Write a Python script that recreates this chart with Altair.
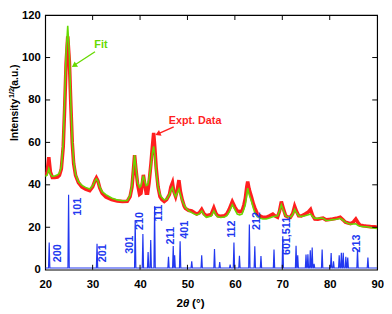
import altair as alt
import pandas as pd

# ---------------- data ----------------
expt_x = [20.0, 20.4, 20.76, 21.1, 21.5, 22.0, 22.6, 23.0, 23.4, 23.8, 24.1, 24.4, 24.75, 25.1, 25.4, 25.7,
          26.0, 26.4, 27.0, 27.7, 28.5, 29.4, 30.0, 30.5, 30.8, 31.1, 31.5, 32.0, 32.8, 34.0, 35.2, 36.3,
          37.3, 37.9, 38.3, 38.6, 38.85, 39.1, 39.5, 39.9, 40.2, 40.5, 40.7, 40.95, 41.3, 41.6, 41.9, 42.3,
          42.6, 42.87, 43.1, 43.4, 43.8, 44.2, 44.6, 45.1, 45.6, 46.2, 46.5, 46.84, 47.1, 47.5, 47.8, 48.2,
          48.5, 48.9, 49.3, 49.56, 50.2, 50.9, 51.5, 51.95, 52.5, 53.0, 53.5, 54.0, 55.0, 55.56, 56.0, 56.4,
          57.0, 57.75, 58.3, 58.8, 59.45, 60.0, 60.5, 61.0, 61.5, 61.9, 62.2, 62.5, 62.7, 63.0, 63.5, 63.9,
          64.2, 64.7, 65.26, 65.9, 66.6, 67.3, 68.0, 68.5, 69.0, 69.4, 69.8, 70.2, 70.7, 71.2, 71.7, 72.2,
          72.6, 73.0, 73.45, 74.0, 74.8, 75.5, 75.96, 76.4, 76.85, 77.5, 78.1, 78.6, 79.2, 79.9, 80.6, 81.4,
          82.2, 82.8, 83.3, 83.9, 84.4, 85.0, 85.5, 86.0, 86.4, 87.1, 87.8, 88.6, 89.5, 90.0]
expt_y = [44.5, 46, 53, 46, 43.5, 43.5, 43.7, 44.5, 47.5, 58, 76, 97, 110, 98, 78, 60,
          50, 44.5, 41, 39, 38, 37.3, 39, 42, 43.3, 42, 38.5, 36, 34.3, 33, 32.4, 32.1,
          32.2, 34.5, 39, 47, 54, 48, 40, 35.5, 36, 41, 44.7, 41, 36, 36, 41, 50,
          58, 64.5, 58, 48, 39, 34.5, 33, 32.1, 33, 35.5, 39, 41, 37, 34.5, 37, 42.2,
          37, 32.9, 30, 28.9, 28, 27.7, 26.8, 26.2, 26.8, 28.4, 26.3, 25.4, 26, 29.1, 26.5, 25.4,
          25.2, 25.4, 26.3, 28.4, 32.1, 29.5, 27.7, 27.3, 27.7, 30.5, 33.6, 39, 41.5, 38, 34.3, 31,
          29.1, 26.5, 25.4, 24.7, 24.7, 25.4, 26.2, 25.3, 24.7, 27.5, 32.1, 29, 25.4, 24.8, 24.7, 26.5,
          29.9, 27.5, 25.4, 25.3, 26.2, 27.2, 28.4, 25.5, 23.9, 23.8, 24.1, 24.3, 23.5, 23.7, 23.9, 24.2,
          24.7, 23.5, 22.4, 22, 21.7, 22.5, 23.9, 22.0, 21, 20.7, 20.5, 20.3, 20.2, 20]

fit_x = expt_x
fit_y = [44, 44.5, 47.7, 45, 44, 44.2, 44.7, 45.5, 48.5, 60, 80, 102, 115, 101, 79, 61,
         51, 45, 41.5, 39.8, 38.8, 38, 39.5, 42, 42.8, 41.8, 39, 36.8, 35.4, 33.8, 32.9, 32.5,
         32.6, 35, 40, 47.5, 54, 48.5, 41, 38.8, 39.5, 42.5, 44.3, 42, 39.6, 40, 43, 49,
         55, 58.1, 54, 46, 39, 35.5, 34, 32.9, 33.3, 35.5, 37.5, 38.8, 36.5, 34.5, 36, 38,
         35.5, 32.5, 30.5, 29.4, 27.8, 26.9, 26.2, 25.8, 26.3, 27.7, 25.8, 24.7, 25.3, 27.7, 25.8, 24.9,
         24.6, 24.8, 25.5, 27.2, 30.6, 28.3, 26.2, 25.8, 26.2, 28.5, 30.6, 35.5, 38.4, 35.5, 32.1, 29,
         26.9, 25, 24.3, 23.9, 23.9, 24.4, 25.0, 25.2, 25.4, 27.5, 30.6, 28, 25.4, 24.8, 24.7, 26,
         28.4, 26.8, 25.4, 25.1, 25.4, 25.9, 26.2, 25, 24.2, 24.2, 24.4, 24.3, 23.2, 23.3, 23.6, 23.8,
         24.2, 23.3, 22.4, 21.8, 21.4, 21.5, 21.6, 20.8, 20.5, 20.3, 20.2, 19.9, 19.5, 19.4]

ref_pos = [20.84, 24.93, 30.93, 38.98, 40.6, 41.7, 42.25, 43.07, 46.0, 47.0, 47.3, 48.45, 50.9,
           53.0, 55.7, 56.8, 59.0, 59.8, 60.96, 63.05, 64.2, 65.5, 68.25, 70.1, 72.9, 73.25,
           75.0, 75.4, 75.9, 76.3, 76.7, 78.4, 80.3, 80.8, 82.0, 82.45, 82.85, 83.4, 83.8, 85.86, 88.05]
ref_height = [12.8, 35.3, 12.2, 23.3, 16.8, 8.3, 14, 29.9, 6.1, 11.2, 6.8, 13.4, 3.9,
              6.8, 9.8, 3.6, 2.4, 12.8, 6.5, 21.3, 11.0, 6.4, 9.5, 15.8, 11.3, 6.8,
              7.1, 7.3, 9.1, 10.5, 2.7, 9.5, 7.9, 3.9, 6.8, 8.0, 8.0, 6.1, 5.7, 9.6, 5.7]
ref_base = 0.8

hkl_text = ["200", "101", "201", "301", "210", "111", "211", "401", "112", "212", "601,511", "213"]
hkl_x = [22.74, 26.84, 32.2, 37.95, 40.0, 44.1, 46.5, 49.4, 59.45, 64.6, 71.1, 85.8]
hkl_y = [7.7, 29.7, 7.7, 11.8, 22.9, 26.7, 16.0, 18.8, 19.1, 22.9, 15.9, 12.3]

x_tick_values = [20, 30, 40, 50, 60, 70, 80, 90]
y_tick_values = [0, 20, 40, 60, 80, 100, 120]
x_inner_ticks = [30, 40, 50, 60, 70, 80]
y_inner_ticks = [20, 40, 60, 80, 100]

W, H = 339, 260
RED = "#ff1f1f"
GREEN = "#66d900"
BLUE = "#2238f0"
FONT = "Liberation Sans"

# ---------------- tables ----------------
expt_df = pd.DataFrame({"x": expt_x, "y": expt_y})
fit_df = pd.DataFrame({"x": fit_x, "y": fit_y})
hw = 0.14
bx, by = [20.0], [ref_base]
for p, h in zip(ref_pos, ref_height):
    bx += [p - hw, p, p + hw]
    by += [ref_base, h, ref_base]
bx.append(90.0)
by.append(ref_base)
ref_df = pd.DataFrame({"x": bx, "y": by})
hkl_df = pd.DataFrame({"x": hkl_x, "y": hkl_y, "t": hkl_text})

xs = alt.Scale(domain=[20, 90], nice=False, zero=False)
ys = alt.Scale(domain=[0, 120], nice=False, zero=True)
xaxis = alt.Axis(values=x_tick_values, ticks=False, domain=False, grid=False, title=None,
                 labelFont=FONT, labelFontSize=11.5, labelFontWeight="bold", labelColor="black",
                 labelPadding=9, labelFlush=False, labelOverlap=False)
yaxis = alt.Axis(values=y_tick_values, ticks=False, domain=False, grid=False, title=None,
                 labelFont=FONT, labelFontSize=11.5, labelFontWeight="bold", labelColor="black",
                 labelPadding=5, labelFlush=False, labelOverlap=False)

blue = alt.Chart(ref_df).mark_line(color=BLUE, strokeWidth=1.2, clip=True).encode(
    x=alt.X("x:Q", scale=xs, axis=xaxis), y=alt.Y("y:Q", scale=ys, axis=yaxis))
red = alt.Chart(expt_df).mark_line(color=RED, strokeWidth=3.6, clip=True).encode(
    x=alt.X("x:Q", scale=xs), y=alt.Y("y:Q", scale=ys))
green = alt.Chart(fit_df).mark_line(color=GREEN, strokeWidth=1.6, clip=True).encode(
    x=alt.X("x:Q", scale=xs), y=alt.Y("y:Q", scale=ys))

hkl = alt.Chart(hkl_df).mark_text(color=BLUE, font=FONT, fontSize=11, fontWeight="bold",
                                  angle=270, align="center", baseline="middle").encode(
    x="x:Q", y="y:Q", text="t:N")

# annotations (data coordinates)
ann_text = pd.DataFrame({"x": [31.75, 51.6], "y": [105.9, 70.0], "t": ["Fit", "Expt. Data"],
                         "c": [GREEN, RED]})
ann_txt = alt.Chart(ann_text).mark_text(font=FONT, fontSize=11, fontWeight="bold",
                                        align="center", baseline="middle").encode(
    x="x:Q", y="y:Q", text="t:N", color=alt.Color("c:N", scale=None))
arrows = pd.DataFrame({"x": [30.5, 47.1], "y": [102.7, 67.3], "x2": [26.3, 43.9], "y2": [96.6, 64.1],
                       "c": [GREEN, RED]})
arrow_lines = alt.Chart(arrows).mark_rule(strokeWidth=1.3).encode(
    x="x:Q", y="y:Q", x2="x2:Q", y2="y2:Q", color=alt.Color("c:N", scale=None))
heads = pd.DataFrame({"x": [26.1, 43.75], "y": [96.2, 64.0], "a": [236, 246], "c": [GREEN, RED]})
arrow_heads = alt.Chart(heads).mark_point(shape="triangle-up", filled=True, size=40, opacity=1).encode(
    x="x:Q", y="y:Q", angle=alt.Angle("a:Q", scale=None), color=alt.Color("c:N", scale=None))

# inner ticks
xt = pd.DataFrame({"v": x_inner_ticks})
yt = pd.DataFrame({"v": y_inner_ticks})
tick_top = alt.Chart(xt).mark_rule(color="black", strokeWidth=1).encode(
    x="v:Q", y=alt.value(0), y2=alt.value(5))
tick_bot = alt.Chart(xt).mark_rule(color="black", strokeWidth=1).encode(
    x="v:Q", y=alt.value(H), y2=alt.value(H - 5))
tick_left = alt.Chart(yt).mark_rule(color="black", strokeWidth=1).encode(
    y="v:Q", x=alt.value(0), x2=alt.value(5))
tick_right = alt.Chart(yt).mark_rule(color="black", strokeWidth=1).encode(
    y="v:Q", x=alt.value(W), x2=alt.value(W - 5))

# axis titles as text marks (pixel placement)
one = pd.DataFrame({"d": [0]})
def ptext(txt, px, py, size=11, angle=0, style="normal", align="center"):
    return alt.Chart(one).mark_text(text=txt, font=FONT, fontSize=size, fontWeight="bold",
                                    fontStyle=style, angle=angle, align=align, baseline="middle",
                                    color="black").encode(x=alt.value(px), y=alt.value(py))

ytitle = (ptext("Intensity", -31, 107, 10.5, 270) + ptext("1/2", -33.5, 79.5, 7.5, 270)
          + ptext("(a.u.)", -31, 63, 10.5, 270))
xtitle = (ptext("2", 134, 294, 12, align="left") + ptext("θ", 140.5, 294, 12, style="italic", align="left")
          + ptext("(°)", 150, 294, 12, align="left"))

chart = alt.layer(
    blue, red, green, hkl, arrow_lines, arrow_heads, ann_txt,
    tick_top, tick_bot, tick_left, tick_right, ytitle, xtitle
).properties(
    width=W, height=H,
    autosize=alt.AutoSizeParams(type="none"),
    padding={"left": 38, "top": 4, "right": 7, "bottom": 42},
    background="white",
).configure_view(stroke="black", strokeWidth=1.2)

chart.save("out.html", embed_options={"renderer": "svg", "actions": False})
